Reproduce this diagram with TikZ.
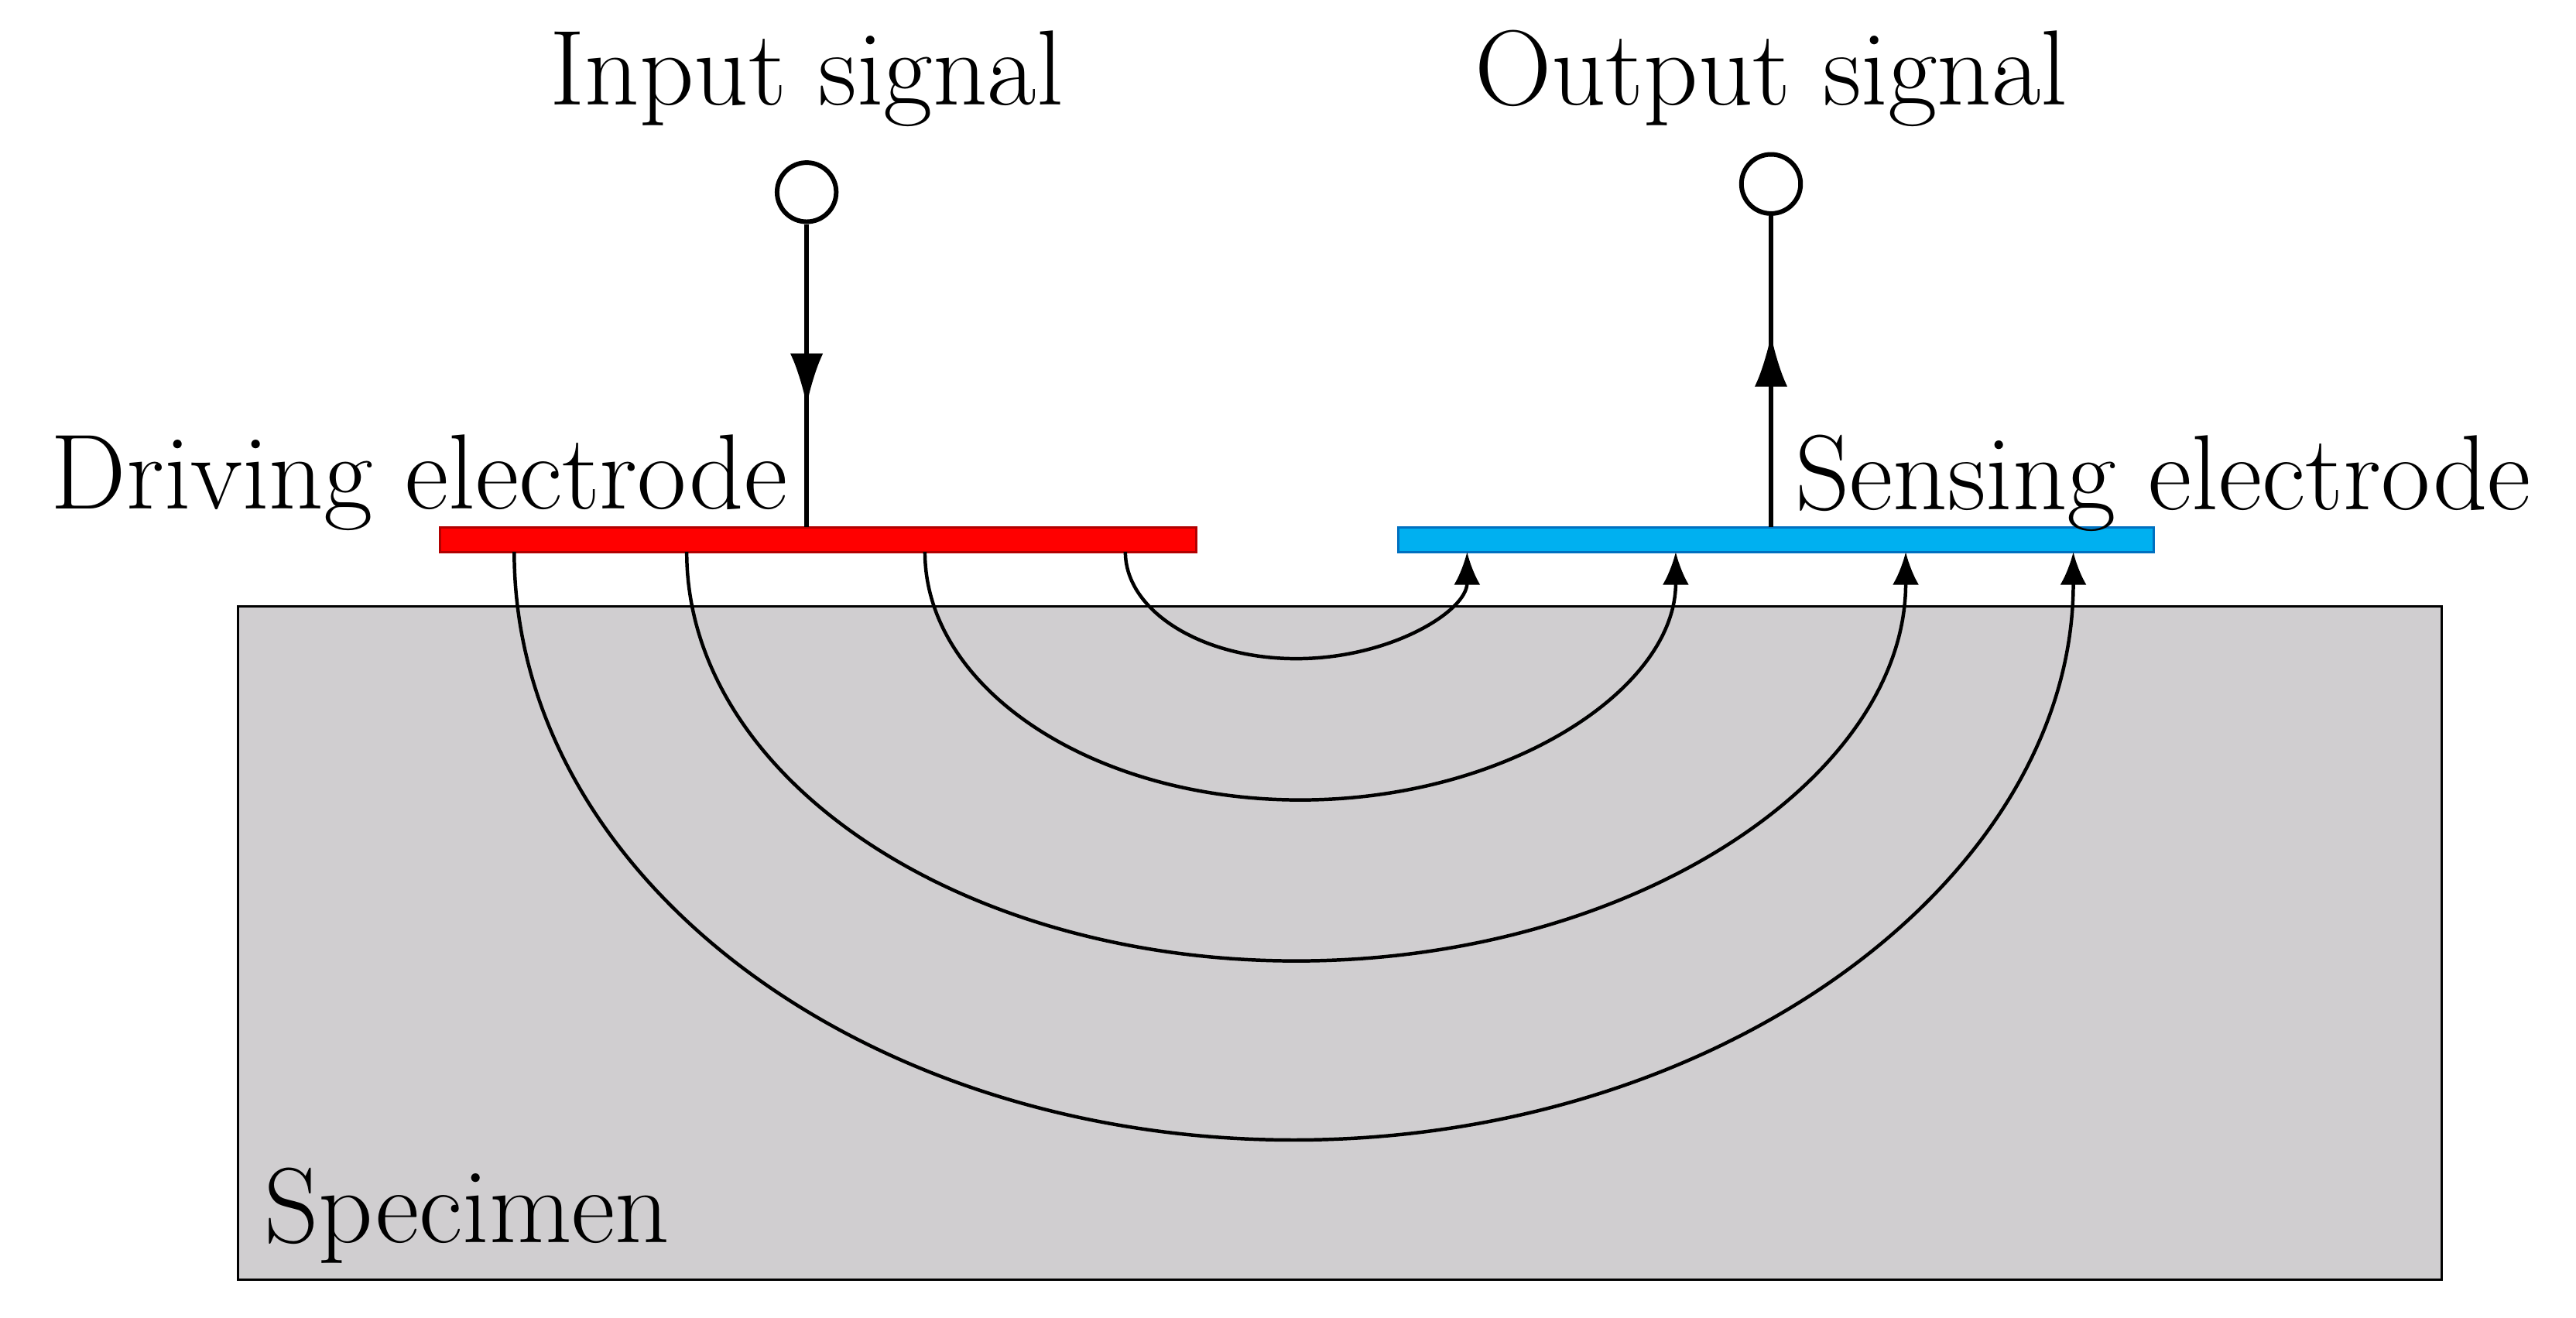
\documentclass[tikz,border=0pt]{standalone}
\usetikzlibrary{positioning,arrows.meta,decorations.markings}
\definecolor{specgray}{RGB}{208,206,208}
\definecolor{senseblue}{RGB}{0,176,240}
\definecolor{senseedge}{RGB}{0,112,192}
\tikzset{
  lbl/.style={font=\fontsize{18.5}{22}\selectfont, inner sep=0pt},
  term/.style={circle, draw, thick, minimum size=0.36cm, inner sep=0pt},
  field/.style={semithick, -{Latex[length=0.2cm,width=0.16cm]}},
  midarrow/.style={thick, postaction={decorate}, decoration={markings,
      mark=at position #1 with {\arrow{Latex[length=0.32cm,width=0.2cm]}}}}
}
\begin{document}
\begin{tikzpicture}
  \useasboundingbox (0,0) rectangle (15.68,8.02);
  % specimen
  \draw[fill=specgray] (1.45,0.23) rectangle (14.86,4.33);
  \node[lbl, anchor=west] (spec) at (1.60,0.62) {Specimen};
  % electrodes
  \draw[red!70!black, fill=red] (2.68,4.66) rectangle (7.28,4.81);
  \draw[senseedge, fill=senseblue] (8.51,4.66) rectangle (13.11,4.81);
  \coordinate (drv) at (4.91,4.81);
  \coordinate (sns) at (10.78,4.81);
  % terminals
  \node[term] (in) at (4.91,6.85) {};
  \node[term] (out) at (10.78,6.90) {};
  \node[lbl, above=0.2cm of in] {Input signal};
  \node[lbl, above=0.15cm of out] {Output signal};
  \draw[midarrow=0.6] (in) -- (drv);
  \draw[midarrow=0.62] (sns) -- (out);
  \node[lbl, anchor=east] (dlab) at (4.80,5.08) {Driving electrode};
  \node[lbl, anchor=west] (slab) at (10.92,5.08) {Sensing electrode};
  % field lines
  \foreach \xa/\xb/\dep in {3.13/12.62/3.58, 4.18/11.60/2.49, 5.63/10.20/1.51, 6.85/8.93/0.65}{
    \pgfmathsetmacro{\rx}{(\xb-\xa)/2}
    \draw[field] (\xa,4.66) arc[start angle=180, end angle=360, x radius=\rx, y radius=\dep];
  }
\end{tikzpicture}
\end{document}
